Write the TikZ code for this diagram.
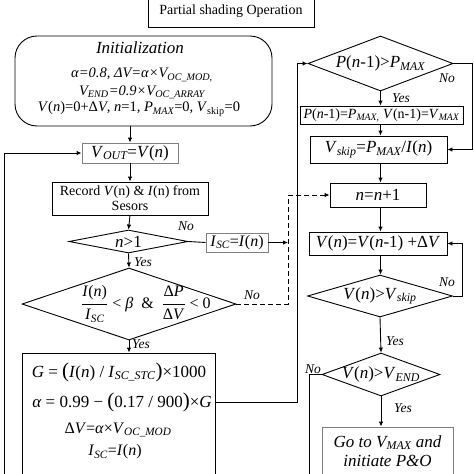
\documentclass[tikz,border=0pt]{standalone}
\usepackage{fontspec}
\setmainfont{Liberation Serif}
\usetikzlibrary{shapes.geometric,arrows.meta}
\newcommand{\sbs}[1]{\textsubscript{\itshape #1}}
\newcommand{\vi}[1]{\textit{#1}}
\newcommand{\fs}[1]{\fontsize{#1}{#1}\selectfont}
\begin{document}
\begin{tikzpicture}[x=1pt,y=-1pt,
  box/.style={draw, line width=0.9pt, inner sep=0pt, align=center, font=\fs{17}},
  gbox/.style={box, draw=gray},
  dia/.style={draw, diamond, line width=0.9pt, inner sep=0pt},
  txt/.style={inner sep=0pt, align=center, font=\fs{17}},
  itxt/.style={inner sep=0pt, align=center, font=\fs{14.5}\itshape},
  lbl/.style={inner sep=0pt, font=\fs{13.5}\itshape},
  conn/.style={line width=0.9pt},
  arr/.style={conn, -{Latex[length=5pt,width=4.5pt]}},
  dsh/.style={conn, dash pattern=on 5pt off 3pt}]
\useasboundingbox (0,0) rectangle (474,474);
\clip (0,0) rectangle (474,474);

% title
\node[box, font=\fs{14}, minimum width=166pt, minimum height=32pt] (title) at (231,11) {Partial shading Operation};

% initialization
\node[draw, line width=0.9pt, rounded corners=22pt, minimum width=257pt, minimum height=90pt] (init) at (143.5,81) {};
\node[inner sep=0pt, font=\fs{17}\itshape] (initT) at (140,48) {Initialization};
\node[itxt] (initA) at (142,75) {α=0.8, Δ\vi{V}=α×\vi{V}\sbs{OC\_MOD,}};
\node[itxt] (initB) at (142,92) {\vi{V}\sbs{END}=0.9×\vi{V}\sbs{OC\_ARRAY}};
\node[itxt] (initC) at (139,109) {\upshape\vi{V}(\vi{n})=0+Δ\vi{V}, \vi{n}=1, \vi{P}\sbs{MAX}=0, \vi{V}\textsubscript{skip}=0};

% left column
\node[gbox, minimum width=96pt, minimum height=20pt] (vout) at (130,153) {\vi{V}\sbs{OUT}=\vi{V}(\vi{n})};
\node[box, font=\fs{14}, minimum width=156pt, minimum height=33pt, align=center] (rec) at (130,198.5) {Record \vi{V}(n) \& \vi{I}(n) from\\[1pt]Sesors};
\node[dia, minimum width=119pt, minimum height=23pt] (d1) at (128.5,241.5) {};
\node[txt] (d1t) at (128.5,241.5) {\vi{n}>1};
\node[gbox, font=\fs{16}, minimum width=62pt, minimum height=19pt] (isc) at (237,242.5) {\vi{I}\sbs{SC}=\vi{I}(\vi{n})};
\node[dia, minimum width=214pt, minimum height=72pt] (d2) at (129,304) {};
\node[txt, font=\fs{16}] (d2t) at (146,304) {$\displaystyle\frac{\mbox{\vi{I}(\vi{n})}}{\mbox{\vi{I}\sbs{SC}}}$ < \vi{β} \ \& \ $\displaystyle\frac{\mbox{Δ\vi{P}}}{\mbox{Δ\vi{V}}}$ < 0};
\node[box, minimum width=193pt, minimum height=140pt] (big) at (118.5,423) {};
\node[txt] (b1) at (119,372) {\vi{G} = {\fs{21}(}\vi{I}(\vi{n}) / \vi{I}\sbs{SC\_STC}{\fs{21})}×1000};
\node[txt] (b2) at (122,402) {\vi{α} = 0.99 − {\fs{21}(}0.17 / 900{\fs{21})}×\vi{G}};
\node[txt, font=\fs{16}] (b3) at (118,430) {Δ\vi{V}=\vi{α}×\vi{V}\sbs{OC\_MOD}};
\node[txt, font=\fs{16}] (b4) at (115,452) {\vi{I}\sbs{SC}=\vi{I}(\vi{n})};

% right column
\node[dia, minimum width=145pt, minimum height=55pt] (p1) at (380.5,63.5) {};
\node[txt] (p1t) at (380.5,63.5) {\vi{P}(\vi{n}-1)>\vi{P}\sbs{MAX}};
\node[box, font=\fs{14}, minimum width=163pt, minimum height=18pt] (box2) at (381.5,115) {\vi{P}(\vi{n}-1)=\vi{P}\sbs{MAX,} \vi{V}(n-1)=\vi{V}\sbs{MAX}};
\node[box, minimum width=137pt, minimum height=27pt] (vskip) at (378.5,149.5) {\vi{V}\sbs{skip}=\vi{P}\sbs{MAX}/\vi{I}(\vi{n})};
\node[box, minimum width=96pt, minimum height=24pt] (nn) at (378,195) {\vi{n}=\vi{n}+1};
\node[box, minimum width=138pt, minimum height=23pt] (vn) at (378,243.5) {\vi{V}(\vi{n})=\vi{V}(\vi{n}-1) +Δ\vi{V}};
\node[dia, minimum width=145pt, minimum height=42pt] (d3) at (380,296) {};
\node[txt] (d3t) at (380,296) {\vi{V}(\vi{n})>\vi{V}\sbs{skip}};
\node[dia, minimum width=118pt, minimum height=43pt] (d4) at (381,374.5) {};
\node[txt] (d4t) at (381,374.5) {\vi{V}(\vi{n})>\vi{V}\sbs{END}};
\node[gbox, minimum width=131pt, minimum height=62pt] (go) at (387.5,458) {};
\node[txt, font=\fontsize{17}{19}\selectfont\itshape] (got) at (387.5,451) {Go to \vi{V}\sbs{MAX} and\\initiate P\&O};

% coordinates
\coordinate (lb) at (4,480);
\coordinate (dx) at (288,242.5);
\coordinate (dd) at (288,304);
\coordinate (rv) at (297,402);
\coordinate (pr) at (472,63.5);
\coordinate (d3r) at (462,296);
\coordinate (d4l) at (309,374.5);
\coordinate (d4b) at (309,480);

% connectors
\draw[arr] (vout.north |- init.south) -- (vout.north);
\draw[arr] (lb) |- (vout.west);
\draw[arr] (vout.south) -- (rec.north);
\draw[arr] (rec.south) -- (d1.north);
\draw[conn] (d1.east) -- (isc.west);
\draw[arr] (isc.east) -- (dx);
\draw[arr] (d1.south) -- (d2.north);
\draw[dsh] (d2.east) -- (dd) -- (dd |- nn.west);
\draw[dsh, -{Latex[length=5pt,width=4.5pt]}] (dd |- nn.west) -- (nn.west);
\draw[arr] (d2.south) -- (big.north -| d2.south);
\draw[arr] (big.east |- rv) -- (rv) |- (p1.west);
\draw[arr] (p1.east) -- (pr) |- (vskip.east);
\draw[arr] (p1.south) -- (p1.south |- box2.north);
\draw[arr] (p1.south |- box2.south) -- (p1.south |- vskip.north);
\draw[arr] (p1.south |- vskip.south) -- (p1.south |- nn.north);
\draw[arr] (p1.south |- nn.south) -- (p1.south |- vn.north);
\draw[arr] (p1.south |- vn.south) -- (p1.south |- d3.north);
\draw[arr] (d3.east) -- (d3r) |- (vn.east);
\draw[arr] (d3.south) -- (d4.north);
\draw[conn] (d4.west) -- (d4l) -- (d4b);
\draw[arr] (d4.south) -- (d4.south |- go.north);

% labels
\node[lbl] (n1) at (186,226) {No};
\node[lbl] (y1) at (143,262) {Yes};
\node[lbl] (n2) at (252,295) {No};
\node[lbl] (y2) at (141,344) {Yes};
\node[lbl] (n3) at (447,78) {No};
\node[lbl] (y3) at (401,98) {Yes};
\node[lbl] (n4) at (447,282) {No};
\node[lbl] (y4) at (395,341) {Yes};
\node[lbl] (n5) at (313,369) {No};
\node[lbl] (y5) at (403,408) {Yes};
\end{tikzpicture}
\end{document}
